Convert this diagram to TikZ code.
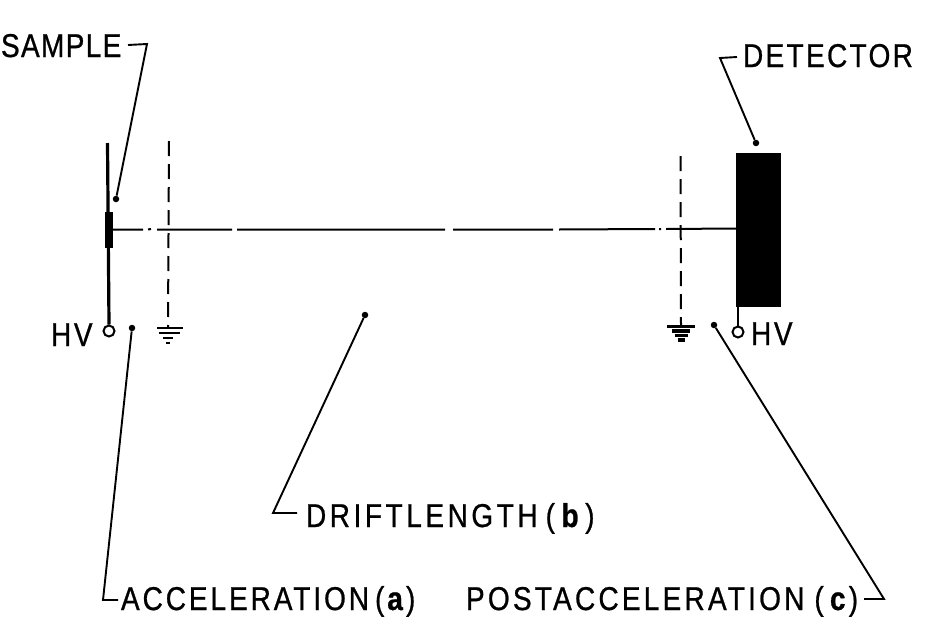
\documentclass[tikz,border=0pt]{standalone}
\usepackage{fontspec}
\setmainfont[FakeStretch=0.85,LetterSpace=8,FakeBold=0.7]{Liberation Sans}
\tikzset{
 lbl/.style={inner sep=0pt,outer sep=0pt,anchor=base west,font=\fontsize{33}{33}\selectfont},
 lead/.style={line width=1.9pt,line join=miter},
 dotend/.style={circle,fill=black,inner sep=0pt,minimum size=6.5pt},
 term/.style={circle,draw=black,line width=2pt,fill=white,inner sep=0pt,minimum size=11pt},
 gridline/.style={line width=2pt,dash pattern=on 15pt off 8pt},
 beam/.style={line width=2pt},
}
\begin{document}
\begin{tikzpicture}[x=1pt,y=-1pt]
\useasboundingbox (0,0) rectangle (926,624);
\fill[white] (0,0) rectangle (926,624);
% labels
\node[lbl] (sample) at (1,57) {\addfontfeature{LetterSpace=4}SAMPLE};
\node[lbl] (detector) at (743,67) {\addfontfeature{LetterSpace=7}DETECTOR};
\node[lbl] (hvl) at (51,346) {HV};
\node[lbl] (hvr) at (751,345) {HV};
\node[lbl] (drift) at (306,527) {\addfontfeature{LetterSpace=10.7}DRIFTLENGTH\hspace{8pt}(\hspace{3pt}\textbf{b}\hspace{3pt})};
\node[lbl] (accel) at (121,610) {\addfontfeature{LetterSpace=8.8}ACCELERATION\hspace{6pt}(\textbf{a})};
\node[lbl] (post) at (466,610) {\addfontfeature{LetterSpace=9.7}POSTACCELERATION\hspace{10pt}(\hspace{3pt}\textbf{c})};
% sample plate
\node[term] (tl) at (109,331) {};
\coordinate (plateT) at (107.5,143);
\draw[line width=3.2pt] (plateT) -- (tl.north);
\fill (105,212) rectangle (112.5,248);
% detector
\node[fill=black,inner sep=0pt,minimum width=44.5pt,minimum height=154pt,anchor=north west] (det) at (736,153) {};
\node[term] (tr) at (738,332) {};
\coordinate (trT) at (738,306);
\draw[line width=2.4pt] (tr.north) -- (trT);
% beam
\coordinate (beamL) at (112,229.5);
\coordinate (beamR) at (736,228.5);
\draw[beam] (beamL) -- (143,229.5) (148,229.5) -- (151,229) (157,229.5) -- (232,229.5) (237,229.5) -- (445,229.5) (453,229.5) -- (553,229.5) (559,229.5) -- (655,229) (659,229) -- (661,229) (666,229) -- (beamR);
% grids
\coordinate (g1T) at (169,141);
\coordinate (g1B) at (168,328);
\coordinate (g2T) at (680.5,156);
\coordinate (g2B) at (681,326);
\draw[gridline] (g1T) -- (g1B);
\draw[gridline] (g2T) -- (g2B);
% grounds
\draw[line width=2pt] (157,327.5) -- (183,327.5) (159,333) -- (180,333) (163,338) -- (173,338) (166,343) -- (169.5,343);
\draw[line width=3.4pt] (667,326.5) -- (695,326.5) (672,331) -- (690,331) (675,335.5) -- (688,335.5) (678,340) -- (685,340);
% leaders
\coordinate (c1a) at (128,45);
\coordinate (c1b) at (147,44);
\coordinate (c2a) at (737,57);
\coordinate (c2b) at (720,58);
\coordinate (c3a) at (118,600);
\coordinate (c3b) at (103,600);
\coordinate (c4a) at (297,513);
\coordinate (c4b) at (273,513);
\coordinate (c5a) at (864,599);
\coordinate (c5b) at (884,599);
\node[dotend] (d1) at (116,199) {};
\draw[lead] (c1a) -- (c1b) -- (d1);
\node[dotend] (d2) at (756,143) {};
\draw[lead] (c2a) -- (c2b) -- (d2);
\node[dotend] (d3) at (132,328) {};
\draw[lead] (c3a) -- (c3b) -- (d3);
\node[dotend] (d4) at (365,315) {};
\draw[lead] (c4a) -- (c4b) -- (d4);
\node[dotend] (d5) at (714,325) {};
\draw[lead] (c5a) -- (c5b) -- (d5);
\end{tikzpicture}
\end{document}
